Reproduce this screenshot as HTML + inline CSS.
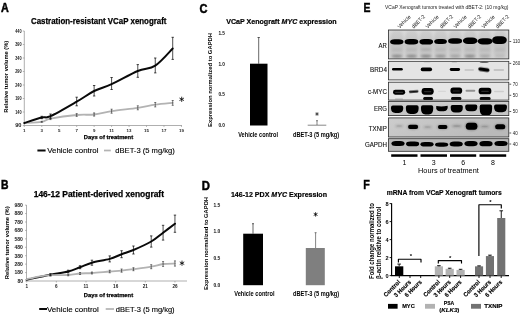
<!DOCTYPE html>
<html><head><meta charset="utf-8"><title>Figure</title>
<style>
html,body{margin:0;padding:0;background:#fff;}
body{width:520px;height:314px;overflow:hidden;}
svg{display:block;font-family:"Liberation Sans",sans-serif;}
</style></head><body>
<svg width="520" height="314" viewBox="0 0 520 314">
<rect width="520" height="314" fill="#fff"/>
<text x="1.00" y="12.20" font-size="12.80" font-weight="bold" text-anchor="start" fill="#000" textLength="7.80" lengthAdjust="spacingAndGlyphs" stroke="#000" stroke-width="0.5">A</text>
<text x="31.00" y="23.80" font-size="8.50" font-weight="bold" text-anchor="start" fill="#000" textLength="135.50" lengthAdjust="spacingAndGlyphs" stroke="#000" stroke-width="0.25">Castration-resistant VCaP xenograft</text>
<path d="M24.3 31 V125.5 H182" stroke="#8c8c8c" stroke-width="0.7" fill="none"/>
<path d="M22.8 31.00 H24.3" stroke="#8c8c8c" stroke-width="0.6"/>
<text x="15.20" y="32.60" font-size="4.60" font-weight="bold" text-anchor="start" fill="#222" textLength="6.40" lengthAdjust="spacingAndGlyphs">440</text>
<path d="M22.8 44.50 H24.3" stroke="#8c8c8c" stroke-width="0.6"/>
<text x="15.20" y="46.10" font-size="4.60" font-weight="bold" text-anchor="start" fill="#222" textLength="6.40" lengthAdjust="spacingAndGlyphs">390</text>
<path d="M22.8 58.00 H24.3" stroke="#8c8c8c" stroke-width="0.6"/>
<text x="15.20" y="59.60" font-size="4.60" font-weight="bold" text-anchor="start" fill="#222" textLength="6.40" lengthAdjust="spacingAndGlyphs">340</text>
<path d="M22.8 71.50 H24.3" stroke="#8c8c8c" stroke-width="0.6"/>
<text x="15.20" y="73.10" font-size="4.60" font-weight="bold" text-anchor="start" fill="#222" textLength="6.40" lengthAdjust="spacingAndGlyphs">290</text>
<path d="M22.8 85.00 H24.3" stroke="#8c8c8c" stroke-width="0.6"/>
<text x="15.20" y="86.60" font-size="4.60" font-weight="bold" text-anchor="start" fill="#222" textLength="6.40" lengthAdjust="spacingAndGlyphs">240</text>
<path d="M22.8 98.50 H24.3" stroke="#8c8c8c" stroke-width="0.6"/>
<text x="15.20" y="100.10" font-size="4.60" font-weight="bold" text-anchor="start" fill="#222" textLength="6.40" lengthAdjust="spacingAndGlyphs">190</text>
<path d="M22.8 112.00 H24.3" stroke="#8c8c8c" stroke-width="0.6"/>
<text x="15.20" y="113.60" font-size="4.60" font-weight="bold" text-anchor="start" fill="#222" textLength="6.40" lengthAdjust="spacingAndGlyphs">140</text>
<path d="M22.8 125.50 H24.3" stroke="#8c8c8c" stroke-width="0.6"/>
<text x="15.20" y="127.10" font-size="4.60" font-weight="bold" text-anchor="start" fill="#222" textLength="6.40" lengthAdjust="spacingAndGlyphs">90</text>
<path d="M24.30 125.5 V127" stroke="#8c8c8c" stroke-width="0.6"/>
<text x="24.30" y="132.10" font-size="4.40" font-weight="bold" text-anchor="middle" fill="#222">1</text>
<path d="M41.76 125.5 V127" stroke="#8c8c8c" stroke-width="0.6"/>
<text x="41.76" y="132.10" font-size="4.40" font-weight="bold" text-anchor="middle" fill="#222">3</text>
<path d="M59.22 125.5 V127" stroke="#8c8c8c" stroke-width="0.6"/>
<text x="59.22" y="132.10" font-size="4.40" font-weight="bold" text-anchor="middle" fill="#222">5</text>
<path d="M76.68 125.5 V127" stroke="#8c8c8c" stroke-width="0.6"/>
<text x="76.68" y="132.10" font-size="4.40" font-weight="bold" text-anchor="middle" fill="#222">7</text>
<path d="M94.14 125.5 V127" stroke="#8c8c8c" stroke-width="0.6"/>
<text x="94.14" y="132.10" font-size="4.40" font-weight="bold" text-anchor="middle" fill="#222">9</text>
<path d="M111.60 125.5 V127" stroke="#8c8c8c" stroke-width="0.6"/>
<text x="111.60" y="132.10" font-size="4.40" font-weight="bold" text-anchor="middle" fill="#222">11</text>
<path d="M129.06 125.5 V127" stroke="#8c8c8c" stroke-width="0.6"/>
<text x="129.06" y="132.10" font-size="4.40" font-weight="bold" text-anchor="middle" fill="#222">13</text>
<path d="M146.52 125.5 V127" stroke="#8c8c8c" stroke-width="0.6"/>
<text x="146.52" y="132.10" font-size="4.40" font-weight="bold" text-anchor="middle" fill="#222">15</text>
<path d="M163.98 125.5 V127" stroke="#8c8c8c" stroke-width="0.6"/>
<text x="163.98" y="132.10" font-size="4.40" font-weight="bold" text-anchor="middle" fill="#222">17</text>
<path d="M181.44 125.5 V127" stroke="#8c8c8c" stroke-width="0.6"/>
<text x="181.44" y="132.10" font-size="4.40" font-weight="bold" text-anchor="middle" fill="#222">19</text>
<text x="83.80" y="139.00" font-size="5.50" font-weight="bold" text-anchor="start" fill="#000" textLength="49.30" lengthAdjust="spacingAndGlyphs" stroke="#000" stroke-width="0.25">Days of treatment</text>
<g transform="translate(8.4,76.75) rotate(-90)">
<text x="-36.00" y="0.00" font-size="5.80" font-weight="bold" text-anchor="start" fill="#000" textLength="72.00" lengthAdjust="spacingAndGlyphs">Relative tumor volume (%)</text>
</g>
<path d="M24.30 123.00 C27.21 122.80 37.40 122.52 41.76 121.80 C46.13 121.08 44.67 119.83 50.49 118.70 C56.31 117.57 69.41 115.70 76.68 115.00 C83.96 114.30 88.32 115.13 94.14 114.50 C99.96 113.87 104.33 112.32 111.60 111.20 C118.88 110.08 130.52 108.88 137.79 107.80 C145.07 106.72 149.43 105.52 155.25 104.70 C161.07 103.88 169.80 103.20 172.71 102.90" stroke="#b3b3b3" stroke-width="1.8" fill="none" stroke-linecap="round"/>
<path d="M24.30 123.00 C27.21 122.08 37.40 118.63 41.76 117.50 C46.13 116.37 44.67 118.83 50.49 116.20 C56.31 113.57 69.41 105.90 76.68 101.70 C83.96 97.50 88.32 93.92 94.14 91.00 C99.96 88.08 104.33 87.53 111.60 84.20 C118.88 80.87 130.52 74.10 137.79 71.00 C145.07 67.90 149.43 69.35 155.25 65.60 C161.07 61.85 169.80 51.35 172.71 48.50" stroke="#0a0a0a" stroke-width="2.0" fill="none" stroke-linecap="round"/>
<path d="M41.76 116.30 V118.70 M40.56 116.30 h2.40 M40.56 118.70 h2.40" stroke="#000" stroke-width="0.70" fill="none"/>
<path d="M50.49 114.00 V118.30 M49.29 114.00 h2.40 M49.29 118.30 h2.40" stroke="#000" stroke-width="0.70" fill="none"/>
<path d="M76.68 97.20 V105.80 M75.48 97.20 h2.40 M75.48 105.80 h2.40" stroke="#000" stroke-width="0.70" fill="none"/>
<path d="M94.14 85.50 V96.00 M92.94 85.50 h2.40 M92.94 96.00 h2.40" stroke="#000" stroke-width="0.70" fill="none"/>
<path d="M111.60 77.50 V89.50 M110.40 77.50 h2.40 M110.40 89.50 h2.40" stroke="#000" stroke-width="0.70" fill="none"/>
<path d="M137.79 64.60 V77.30 M136.59 64.60 h2.40 M136.59 77.30 h2.40" stroke="#000" stroke-width="0.70" fill="none"/>
<path d="M155.25 58.00 V72.90 M154.05 58.00 h2.40 M154.05 72.90 h2.40" stroke="#000" stroke-width="0.70" fill="none"/>
<path d="M172.71 37.30 V59.40 M171.51 37.30 h2.40 M171.51 59.40 h2.40" stroke="#000" stroke-width="0.70" fill="none"/>
<path d="M41.76 121.30 V122.30 M40.76 121.30 h2.00 M40.76 122.30 h2.00" stroke="#222" stroke-width="0.60" fill="none"/>
<path d="M50.49 117.80 V119.60 M49.49 117.80 h2.00 M49.49 119.60 h2.00" stroke="#222" stroke-width="0.60" fill="none"/>
<path d="M76.68 113.60 V116.40 M75.68 113.60 h2.00 M75.68 116.40 h2.00" stroke="#222" stroke-width="0.60" fill="none"/>
<path d="M94.14 112.90 V116.10 M93.14 112.90 h2.00 M93.14 116.10 h2.00" stroke="#222" stroke-width="0.60" fill="none"/>
<path d="M111.60 109.20 V113.20 M110.60 109.20 h2.00 M110.60 113.20 h2.00" stroke="#222" stroke-width="0.60" fill="none"/>
<path d="M137.79 105.80 V109.80 M136.79 105.80 h2.00 M136.79 109.80 h2.00" stroke="#222" stroke-width="0.60" fill="none"/>
<path d="M155.25 102.50 V106.90 M154.25 102.50 h2.00 M154.25 106.90 h2.00" stroke="#222" stroke-width="0.60" fill="none"/>
<path d="M172.71 100.50 V105.30 M171.71 100.50 h2.00 M171.71 105.30 h2.00" stroke="#222" stroke-width="0.60" fill="none"/>
<path d="M181.70 96.70 L181.70 101.90 M183.95 98.00 L179.45 100.60 M183.95 100.60 L179.45 98.00 " stroke="#000" stroke-width="0.80" fill="none"/>
<path d="M37.4 150.5 H45.6" stroke="#0a0a0a" stroke-width="2"/>
<text x="47.20" y="153.30" font-size="7.60" font-weight="normal" text-anchor="start" fill="#000" textLength="51.30" lengthAdjust="spacingAndGlyphs" stroke="#000" stroke-width="0.12">Vehicle control</text>
<path d="M104 150.5 H110.8" stroke="#b3b3b3" stroke-width="1.7"/>
<text x="115.30" y="153.30" font-size="7.60" font-weight="normal" text-anchor="start" fill="#000" textLength="59.50" lengthAdjust="spacingAndGlyphs" stroke="#000" stroke-width="0.12">dBET-3 (5 mg/kg)</text>
<text x="1.10" y="189.20" font-size="12.40" font-weight="bold" text-anchor="start" fill="#000" textLength="7.50" lengthAdjust="spacingAndGlyphs" stroke="#000" stroke-width="0.5">B</text>
<text x="33.70" y="196.80" font-size="8.20" font-weight="bold" text-anchor="start" fill="#000" textLength="130.30" lengthAdjust="spacingAndGlyphs" stroke="#000" stroke-width="0.25">146-12 Patient-derived xenograft</text>
<path d="M26.5 205 V281 H187" stroke="#8c8c8c" stroke-width="0.7" fill="none"/>
<path d="M25 205.13 H26.5" stroke="#8c8c8c" stroke-width="0.6"/>
<text x="14.50" y="207.03" font-size="5.20" font-weight="bold" text-anchor="start" fill="#222" textLength="8.40" lengthAdjust="spacingAndGlyphs">980</text>
<path d="M25 213.56 H26.5" stroke="#8c8c8c" stroke-width="0.6"/>
<text x="14.50" y="215.46" font-size="5.20" font-weight="bold" text-anchor="start" fill="#222" textLength="8.40" lengthAdjust="spacingAndGlyphs">880</text>
<path d="M25 221.99 H26.5" stroke="#8c8c8c" stroke-width="0.6"/>
<text x="14.50" y="223.89" font-size="5.20" font-weight="bold" text-anchor="start" fill="#222" textLength="8.40" lengthAdjust="spacingAndGlyphs">780</text>
<path d="M25 230.42 H26.5" stroke="#8c8c8c" stroke-width="0.6"/>
<text x="14.50" y="232.32" font-size="5.20" font-weight="bold" text-anchor="start" fill="#222" textLength="8.40" lengthAdjust="spacingAndGlyphs">680</text>
<path d="M25 238.85 H26.5" stroke="#8c8c8c" stroke-width="0.6"/>
<text x="14.50" y="240.75" font-size="5.20" font-weight="bold" text-anchor="start" fill="#222" textLength="8.40" lengthAdjust="spacingAndGlyphs">580</text>
<path d="M25 247.28 H26.5" stroke="#8c8c8c" stroke-width="0.6"/>
<text x="14.50" y="249.18" font-size="5.20" font-weight="bold" text-anchor="start" fill="#222" textLength="8.40" lengthAdjust="spacingAndGlyphs">480</text>
<path d="M25 255.71 H26.5" stroke="#8c8c8c" stroke-width="0.6"/>
<text x="14.50" y="257.61" font-size="5.20" font-weight="bold" text-anchor="start" fill="#222" textLength="8.40" lengthAdjust="spacingAndGlyphs">380</text>
<path d="M25 264.14 H26.5" stroke="#8c8c8c" stroke-width="0.6"/>
<text x="14.50" y="266.04" font-size="5.20" font-weight="bold" text-anchor="start" fill="#222" textLength="8.40" lengthAdjust="spacingAndGlyphs">280</text>
<path d="M25 272.57 H26.5" stroke="#8c8c8c" stroke-width="0.6"/>
<text x="14.50" y="274.47" font-size="5.20" font-weight="bold" text-anchor="start" fill="#222" textLength="8.40" lengthAdjust="spacingAndGlyphs">180</text>
<path d="M25 281.00 H26.5" stroke="#8c8c8c" stroke-width="0.6"/>
<text x="17.40" y="282.90" font-size="5.20" font-weight="bold" text-anchor="start" fill="#222" textLength="5.50" lengthAdjust="spacingAndGlyphs">80</text>
<path d="M26.70 281 V282.5" stroke="#8c8c8c" stroke-width="0.6"/>
<text x="26.70" y="288.40" font-size="4.60" font-weight="bold" text-anchor="middle" fill="#222">1</text>
<path d="M56.35 281 V282.5" stroke="#8c8c8c" stroke-width="0.6"/>
<text x="56.35" y="288.40" font-size="4.60" font-weight="bold" text-anchor="middle" fill="#222">6</text>
<path d="M86.00 281 V282.5" stroke="#8c8c8c" stroke-width="0.6"/>
<text x="86.00" y="288.40" font-size="4.60" font-weight="bold" text-anchor="middle" fill="#222">11</text>
<path d="M115.65 281 V282.5" stroke="#8c8c8c" stroke-width="0.6"/>
<text x="115.65" y="288.40" font-size="4.60" font-weight="bold" text-anchor="middle" fill="#222">16</text>
<path d="M145.30 281 V282.5" stroke="#8c8c8c" stroke-width="0.6"/>
<text x="145.30" y="288.40" font-size="4.60" font-weight="bold" text-anchor="middle" fill="#222">21</text>
<path d="M174.95 281 V282.5" stroke="#8c8c8c" stroke-width="0.6"/>
<text x="174.95" y="288.40" font-size="4.60" font-weight="bold" text-anchor="middle" fill="#222">26</text>
<text x="83.80" y="297.00" font-size="5.50" font-weight="bold" text-anchor="start" fill="#000" textLength="49.30" lengthAdjust="spacingAndGlyphs" stroke="#000" stroke-width="0.25">Days of treatment</text>
<g transform="translate(9.4,242.8) rotate(-90)">
<text x="-36.50" y="0.00" font-size="5.60" font-weight="bold" text-anchor="start" fill="#000" textLength="73.00" lengthAdjust="spacingAndGlyphs">Relative tumor volume (%)</text>
</g>
<path d="M26.70 279.70 C30.65 278.87 43.50 276.07 50.42 274.70 C57.34 273.33 63.27 272.75 68.21 271.50 C73.15 270.25 76.12 268.67 80.07 267.20 C84.02 265.73 86.99 264.08 91.93 262.70 C96.87 261.32 104.78 260.32 109.72 258.90 C114.66 257.48 117.63 255.68 121.58 254.20 C125.53 252.72 128.50 252.12 133.44 250.00 C138.38 247.88 146.29 244.38 151.23 241.50 C156.17 238.62 159.14 235.67 163.09 232.70 C167.04 229.73 172.97 225.20 174.95 223.70" stroke="#0a0a0a" stroke-width="2.0" fill="none" stroke-linecap="round"/>
<path d="M26.70 279.30 C28.68 278.85 34.61 277.28 38.56 276.60 C42.51 275.92 45.48 275.47 50.42 275.20 C55.36 274.93 63.27 275.28 68.21 275.00 C73.15 274.72 76.12 273.83 80.07 273.50 C84.02 273.17 86.99 273.33 91.93 273.00 C96.87 272.67 104.78 271.90 109.72 271.50 C114.66 271.10 117.63 270.98 121.58 270.60 C125.53 270.22 128.50 269.85 133.44 269.20 C138.38 268.55 146.29 267.57 151.23 266.70 C156.17 265.83 159.14 264.53 163.09 264.00 C167.04 263.47 172.97 263.58 174.95 263.50" stroke="#b3b3b3" stroke-width="1.8" fill="none" stroke-linecap="round"/>
<path d="M50.42 273.70 V275.70 M49.22 273.70 h2.40 M49.22 275.70 h2.40" stroke="#000" stroke-width="0.70" fill="none"/>
<path d="M68.21 270.20 V272.80 M67.01 270.20 h2.40 M67.01 272.80 h2.40" stroke="#000" stroke-width="0.70" fill="none"/>
<path d="M80.07 265.70 V268.70 M78.87 265.70 h2.40 M78.87 268.70 h2.40" stroke="#000" stroke-width="0.70" fill="none"/>
<path d="M91.93 260.20 V265.20 M90.73 260.20 h2.40 M90.73 265.20 h2.40" stroke="#000" stroke-width="0.70" fill="none"/>
<path d="M109.72 255.90 V261.90 M108.52 255.90 h2.40 M108.52 261.90 h2.40" stroke="#000" stroke-width="0.70" fill="none"/>
<path d="M121.58 250.70 V257.70 M120.38 250.70 h2.40 M120.38 257.70 h2.40" stroke="#000" stroke-width="0.70" fill="none"/>
<path d="M133.44 246.00 V254.00 M132.24 246.00 h2.40 M132.24 254.00 h2.40" stroke="#000" stroke-width="0.70" fill="none"/>
<path d="M151.23 235.90 V247.10 M150.03 235.90 h2.40 M150.03 247.10 h2.40" stroke="#000" stroke-width="0.70" fill="none"/>
<path d="M163.09 225.30 V240.10 M161.89 225.30 h2.40 M161.89 240.10 h2.40" stroke="#000" stroke-width="0.70" fill="none"/>
<path d="M174.95 215.10 V232.30 M173.75 215.10 h2.40 M173.75 232.30 h2.40" stroke="#000" stroke-width="0.70" fill="none"/>
<path d="M50.42 274.40 V276.00 M49.42 274.40 h2.00 M49.42 276.00 h2.00" stroke="#222" stroke-width="0.60" fill="none"/>
<path d="M68.21 274.20 V275.80 M67.21 274.20 h2.00 M67.21 275.80 h2.00" stroke="#222" stroke-width="0.60" fill="none"/>
<path d="M80.07 272.50 V274.50 M79.07 272.50 h2.00 M79.07 274.50 h2.00" stroke="#222" stroke-width="0.60" fill="none"/>
<path d="M91.93 272.00 V274.00 M90.93 272.00 h2.00 M90.93 274.00 h2.00" stroke="#222" stroke-width="0.60" fill="none"/>
<path d="M109.72 270.20 V272.80 M108.72 270.20 h2.00 M108.72 272.80 h2.00" stroke="#222" stroke-width="0.60" fill="none"/>
<path d="M121.58 269.00 V272.20 M120.58 269.00 h2.00 M120.58 272.20 h2.00" stroke="#222" stroke-width="0.60" fill="none"/>
<path d="M133.44 267.70 V270.70 M132.44 267.70 h2.00 M132.44 270.70 h2.00" stroke="#222" stroke-width="0.60" fill="none"/>
<path d="M151.23 264.70 V268.70 M150.23 264.70 h2.00 M150.23 268.70 h2.00" stroke="#222" stroke-width="0.60" fill="none"/>
<path d="M163.09 261.60 V266.40 M162.09 261.60 h2.00 M162.09 266.40 h2.00" stroke="#222" stroke-width="0.60" fill="none"/>
<path d="M174.95 260.90 V266.10 M173.95 260.90 h2.00 M173.95 266.10 h2.00" stroke="#222" stroke-width="0.60" fill="none"/>
<path d="M182.00 260.60 L182.00 265.80 M184.25 261.90 L179.75 264.50 M184.25 264.50 L179.75 261.90 " stroke="#000" stroke-width="0.80" fill="none"/>
<path d="M39.2 309 H47" stroke="#0a0a0a" stroke-width="2"/>
<text x="46.90" y="311.80" font-size="7.60" font-weight="normal" text-anchor="start" fill="#000" textLength="51.90" lengthAdjust="spacingAndGlyphs" stroke="#000" stroke-width="0.12">Vehicle control</text>
<path d="M105.7 309 H114" stroke="#b3b3b3" stroke-width="1.7"/>
<text x="115.80" y="311.80" font-size="7.60" font-weight="normal" text-anchor="start" fill="#000" textLength="58.80" lengthAdjust="spacingAndGlyphs" stroke="#000" stroke-width="0.12">dBET-3 (5 mg/kg)</text>
<text x="199.60" y="12.50" font-size="12.60" font-weight="bold" text-anchor="start" fill="#000" textLength="8.00" lengthAdjust="spacingAndGlyphs" stroke="#000" stroke-width="0.5">C</text>
<text x="226.20" y="23.60" font-size="7.60" font-weight="bold" text-anchor="start" fill="#000" textLength="110.50" lengthAdjust="spacingAndGlyphs" stroke="#000" stroke-width="0.2">VCaP Xenograft <tspan font-style="italic">MYC</tspan> expression</text>
<text x="218.40" y="34.60" font-size="5.20" font-weight="bold" text-anchor="start" fill="#111" textLength="6.60" lengthAdjust="spacingAndGlyphs">1.5</text>
<text x="218.40" y="65.50" font-size="5.20" font-weight="bold" text-anchor="start" fill="#111" textLength="6.60" lengthAdjust="spacingAndGlyphs">1.0</text>
<text x="218.40" y="96.40" font-size="5.20" font-weight="bold" text-anchor="start" fill="#111" textLength="6.60" lengthAdjust="spacingAndGlyphs">0.5</text>
<text x="218.40" y="127.30" font-size="5.20" font-weight="bold" text-anchor="start" fill="#111" textLength="6.60" lengthAdjust="spacingAndGlyphs">0.0</text>
<rect x="250" y="63.70" width="17.5" height="61.80" fill="#000"/>
<path d="M258.7 63.70 V37.5 M257.5 37.5 h2.4" stroke="#000" stroke-width="0.6" fill="none"/>
<path d="M307.7 125.2 H326.3" stroke="#555" stroke-width="0.7"/>
<path d="M317 125 V120.7 M316 120.7 h2" stroke="#333" stroke-width="0.6"/>
<path d="M317.00 112.10 L317.00 115.90 M318.65 113.05 L315.35 114.95 M318.65 114.95 L315.35 113.05 " stroke="#000" stroke-width="0.60" fill="none"/>
<text x="238.20" y="136.80" font-size="6.30" font-weight="bold" text-anchor="start" fill="#000" textLength="39.80" lengthAdjust="spacingAndGlyphs">Vehicle control</text>
<text x="293.00" y="136.80" font-size="6.30" font-weight="bold" text-anchor="start" fill="#000" textLength="46.20" lengthAdjust="spacingAndGlyphs">dBET-3 (5 mg/kg)</text>
<g transform="translate(212.2,80) rotate(-90)">
<text x="-47.00" y="0.00" font-size="5.80" font-weight="bold" text-anchor="start" fill="#000" textLength="94.00" lengthAdjust="spacingAndGlyphs">Expression normalized to GAPDH</text>
</g>
<text x="201.80" y="189.60" font-size="12.60" font-weight="bold" text-anchor="start" fill="#000" textLength="8.20" lengthAdjust="spacingAndGlyphs" stroke="#000" stroke-width="0.5">D</text>
<text x="230.90" y="197.40" font-size="7.60" font-weight="bold" text-anchor="start" fill="#000" textLength="96.10" lengthAdjust="spacingAndGlyphs" stroke="#000" stroke-width="0.2">146-12 PDX <tspan font-style="italic">MYC</tspan> Expression</text>
<text x="213.50" y="206.55" font-size="5.20" font-weight="bold" text-anchor="start" fill="#111" textLength="6.80" lengthAdjust="spacingAndGlyphs">1.5</text>
<text x="213.50" y="233.30" font-size="5.20" font-weight="bold" text-anchor="start" fill="#111" textLength="6.80" lengthAdjust="spacingAndGlyphs">1.0</text>
<text x="213.50" y="260.05" font-size="5.20" font-weight="bold" text-anchor="start" fill="#111" textLength="6.80" lengthAdjust="spacingAndGlyphs">0.5</text>
<text x="213.50" y="286.80" font-size="5.20" font-weight="bold" text-anchor="start" fill="#111" textLength="6.80" lengthAdjust="spacingAndGlyphs">0.0</text>
<rect x="243.2" y="233.7" width="19.8" height="51.50" fill="#000"/>
<path d="M253 233.7 V223.7 M252 223.7 h2" stroke="#000" stroke-width="0.6" fill="none"/>
<rect x="305.8" y="248" width="19" height="37.20" fill="#7f7f7f"/>
<path d="M315.6 248 V232.7 M314.6 232.7 h2" stroke="#333" stroke-width="0.6" fill="none"/>
<path d="M315.60 212.20 L315.60 216.60 M317.51 213.30 L313.69 215.50 M317.51 215.50 L313.69 213.30 " stroke="#000" stroke-width="0.80" fill="none"/>
<text x="234.20" y="296.00" font-size="6.30" font-weight="bold" text-anchor="start" fill="#000" textLength="40.30" lengthAdjust="spacingAndGlyphs">Vehicle control</text>
<text x="293.00" y="296.00" font-size="6.30" font-weight="bold" text-anchor="start" fill="#000" textLength="46.20" lengthAdjust="spacingAndGlyphs">dBET-3 (5 mg/kg)</text>
<g transform="translate(208.4,243.5) rotate(-90)">
<text x="-46.50" y="0.00" font-size="5.80" font-weight="bold" text-anchor="start" fill="#000" textLength="93.00" lengthAdjust="spacingAndGlyphs">Expression normalized to GAPDH</text>
</g>
<text x="363.40" y="12.25" font-size="12.70" font-weight="bold" text-anchor="start" fill="#000" textLength="7.00" lengthAdjust="spacingAndGlyphs" stroke="#000" stroke-width="0.4">E</text>
<text x="385.00" y="8.60" font-size="5.30" font-weight="normal" text-anchor="start" fill="#222" textLength="123.50" lengthAdjust="spacingAndGlyphs">VCaP Xenograft tumors treated with dBET-2: (10 mg/kg)</text>
<g transform="translate(399.70,28.7) rotate(-45)">
<text x="0.00" y="0.00" font-size="5.40" font-weight="normal" text-anchor="start" fill="#111" textLength="16.20" lengthAdjust="spacingAndGlyphs">Vehicle</text>
</g>
<g transform="translate(413.70,28.7) rotate(-45)">
<text x="0.00" y="0.00" font-size="5.40" font-weight="normal" text-anchor="start" fill="#111" textLength="16.60" lengthAdjust="spacingAndGlyphs">dBET-2</text>
</g>
<g transform="translate(427.70,28.7) rotate(-45)">
<text x="0.00" y="0.00" font-size="5.40" font-weight="normal" text-anchor="start" fill="#111" textLength="16.20" lengthAdjust="spacingAndGlyphs">Vehicle</text>
</g>
<g transform="translate(441.70,28.7) rotate(-45)">
<text x="0.00" y="0.00" font-size="5.40" font-weight="normal" text-anchor="start" fill="#111" textLength="16.60" lengthAdjust="spacingAndGlyphs">dBET-2</text>
</g>
<g transform="translate(455.70,28.7) rotate(-45)">
<text x="0.00" y="0.00" font-size="5.40" font-weight="normal" text-anchor="start" fill="#111" textLength="16.20" lengthAdjust="spacingAndGlyphs">Vehicle</text>
</g>
<g transform="translate(469.70,28.7) rotate(-45)">
<text x="0.00" y="0.00" font-size="5.40" font-weight="normal" text-anchor="start" fill="#111" textLength="16.60" lengthAdjust="spacingAndGlyphs">dBET-2</text>
</g>
<g transform="translate(483.70,28.7) rotate(-45)">
<text x="0.00" y="0.00" font-size="5.40" font-weight="normal" text-anchor="start" fill="#111" textLength="16.20" lengthAdjust="spacingAndGlyphs">Vehicle</text>
</g>
<g transform="translate(497.70,28.7) rotate(-45)">
<text x="0.00" y="0.00" font-size="5.40" font-weight="normal" text-anchor="start" fill="#111" textLength="16.60" lengthAdjust="spacingAndGlyphs">dBET-2</text>
</g>
<defs><filter id="b1" x="-20%" y="-60%" width="140%" height="220%"><feGaussianBlur stdDeviation="0.55"/></filter><filter id="b2" x="-30%" y="-100%" width="160%" height="300%"><feGaussianBlur stdDeviation="1.2"/></filter><filter id="b3" x="-30%" y="-80%" width="160%" height="260%"><feGaussianBlur stdDeviation="0.68"/></filter>
<linearGradient id="gAR" x1="0" y1="0" x2="0" y2="1"><stop offset="0" stop-color="#dadada"/><stop offset="0.45" stop-color="#cdcdcd"/><stop offset="1" stop-color="#d0d0d0"/></linearGradient>
<linearGradient id="gTX" x1="0" y1="0" x2="1" y2="0.3"><stop offset="0" stop-color="#cdcdcd"/><stop offset="1" stop-color="#b9b9b9"/></linearGradient>
<linearGradient id="gERG" x1="0" y1="0" x2="0" y2="1"><stop offset="0" stop-color="#d2d2d2"/><stop offset="0.5" stop-color="#c2c2c2"/><stop offset="1" stop-color="#c8c8c8"/></linearGradient>
<clipPath id="cAR"><rect x="388.50" y="30.00" width="120.30" height="28.90"/></clipPath>
<clipPath id="cBRD"><rect x="388.50" y="61.30" width="120.30" height="18.60"/></clipPath>
<clipPath id="cMYC"><rect x="388.50" y="82.20" width="120.30" height="17.90"/></clipPath>
<clipPath id="cERG"><rect x="388.50" y="101.40" width="120.30" height="14.20"/></clipPath>
<clipPath id="cTX"><rect x="388.50" y="117.90" width="120.30" height="19.10"/></clipPath>
<clipPath id="cGA"><rect x="388.50" y="138.70" width="120.30" height="12.60"/></clipPath>
</defs>
<rect x="388.50" y="30.00" width="120.30" height="28.90" fill="url(#gAR)"/>
<g clip-path="url(#cAR)">
<rect x="390.50" y="31.00" width="13.00" height="26.00" rx="3.00" ry="13.00" fill="#000" opacity="0.05" filter="url(#b2)"/>
<ellipse cx="397.00" cy="56.20" rx="5.75" ry="1.50" fill="#000" opacity="0.30" filter="url(#b2)"/>
<ellipse cx="397.00" cy="49.50" rx="5.50" ry="1.00" fill="#000" opacity="0.08" filter="url(#b2)"/>
<rect x="405.10" y="31.00" width="13.00" height="26.00" rx="3.00" ry="13.00" fill="#000" opacity="0.05" filter="url(#b2)"/>
<ellipse cx="411.60" cy="56.20" rx="5.75" ry="1.50" fill="#000" opacity="0.30" filter="url(#b2)"/>
<ellipse cx="411.60" cy="49.50" rx="5.50" ry="1.00" fill="#000" opacity="0.08" filter="url(#b2)"/>
<rect x="419.50" y="31.00" width="13.00" height="26.00" rx="3.00" ry="13.00" fill="#000" opacity="0.05" filter="url(#b2)"/>
<ellipse cx="426.00" cy="56.20" rx="5.75" ry="1.50" fill="#000" opacity="0.32" filter="url(#b2)"/>
<ellipse cx="426.00" cy="49.50" rx="5.50" ry="1.00" fill="#000" opacity="0.14" filter="url(#b2)"/>
<rect x="434.10" y="31.00" width="13.00" height="26.00" rx="3.00" ry="13.00" fill="#000" opacity="0.05" filter="url(#b2)"/>
<ellipse cx="440.60" cy="56.20" rx="5.75" ry="1.50" fill="#000" opacity="0.26" filter="url(#b2)"/>
<ellipse cx="440.60" cy="49.50" rx="5.50" ry="1.00" fill="#000" opacity="0.08" filter="url(#b2)"/>
<rect x="448.70" y="31.00" width="13.00" height="26.00" rx="3.00" ry="13.00" fill="#000" opacity="0.05" filter="url(#b2)"/>
<ellipse cx="455.20" cy="56.20" rx="5.75" ry="1.50" fill="#000" opacity="0.18" filter="url(#b2)"/>
<ellipse cx="455.20" cy="49.50" rx="5.50" ry="1.00" fill="#000" opacity="0.08" filter="url(#b2)"/>
<rect x="463.50" y="31.00" width="13.00" height="26.00" rx="3.00" ry="13.00" fill="#000" opacity="0.05" filter="url(#b2)"/>
<ellipse cx="470.00" cy="56.20" rx="5.75" ry="1.50" fill="#000" opacity="0.30" filter="url(#b2)"/>
<ellipse cx="470.00" cy="49.50" rx="5.50" ry="1.00" fill="#000" opacity="0.08" filter="url(#b2)"/>
<rect x="478.50" y="31.00" width="13.00" height="26.00" rx="3.00" ry="13.00" fill="#000" opacity="0.05" filter="url(#b2)"/>
<ellipse cx="485.00" cy="56.20" rx="5.75" ry="1.50" fill="#000" opacity="0.16" filter="url(#b2)"/>
<ellipse cx="485.00" cy="49.50" rx="5.50" ry="1.00" fill="#000" opacity="0.08" filter="url(#b2)"/>
<rect x="493.50" y="31.00" width="13.00" height="26.00" rx="3.00" ry="13.00" fill="#000" opacity="0.05" filter="url(#b2)"/>
<ellipse cx="500.00" cy="56.20" rx="5.75" ry="1.50" fill="#000" opacity="0.05" filter="url(#b2)"/>
<ellipse cx="500.00" cy="49.50" rx="5.50" ry="1.00" fill="#000" opacity="0.08" filter="url(#b2)"/>
<rect x="390.10" y="39.20" width="13.40" height="5.20" rx="4.61" ry="2.60" fill="#000" opacity="1.00" filter="url(#b1)"/>
<rect x="404.60" y="39.10" width="13.70" height="5.40" rx="4.72" ry="2.70" fill="#000" opacity="1.00" filter="url(#b1)"/>
<rect x="419.40" y="38.90" width="13.70" height="5.60" rx="4.72" ry="2.80" fill="#000" opacity="1.00" filter="url(#b1)"/>
<rect x="434.20" y="38.90" width="12.70" height="5.00" rx="4.36" ry="2.50" fill="#000" opacity="1.00" filter="url(#b1)"/>
<rect x="448.10" y="38.20" width="14.00" height="5.60" rx="4.82" ry="2.80" fill="#000" opacity="1.00" filter="url(#b1)"/>
<rect x="462.90" y="37.60" width="14.60" height="6.40" rx="5.04" ry="3.20" fill="#000" opacity="1.00" filter="url(#b1)"/>
<rect x="477.70" y="38.20" width="14.90" height="6.20" rx="5.15" ry="3.10" fill="#000" opacity="1.00" filter="url(#b1)"/>
<rect x="492.10" y="36.15" width="14.70" height="7.90" rx="5.08" ry="3.95" fill="#000" opacity="1.00" filter="url(#b1)"/>
</g>
<rect x="388.50" y="30.00" width="120.30" height="28.90" fill="none" stroke="#2a2a2a" stroke-width="0.8"/>
<text x="378.60" y="48.40" font-size="7.20" font-weight="normal" text-anchor="start" fill="#111" textLength="8.30" lengthAdjust="spacingAndGlyphs" stroke="#111" stroke-width="0.12">AR</text>
<rect x="388.50" y="61.30" width="120.30" height="18.60" fill="#e4e4e4"/>
<g clip-path="url(#cBRD)">
<rect x="392.00" y="67.90" width="10.80" height="2.60" rx="1.30" ry="1.30" fill="#000" opacity="1.00" filter="url(#b1)"/>
<rect x="420.70" y="67.60" width="11.40" height="3.60" rx="1.80" ry="1.80" fill="#000" opacity="1.00" filter="url(#b1)"/>
<rect x="449.75" y="68.05" width="10.30" height="2.90" rx="1.45" ry="1.45" fill="#000" opacity="1.00" filter="url(#b1)"/>
<rect x="478.30" y="67.65" width="11.20" height="3.90" rx="1.95" ry="1.95" fill="#000" opacity="1.00" filter="url(#b1)" transform="rotate(8.0 483.90 69.60)"/>
<rect x="464.45" y="69.30" width="9.50" height="1.40" rx="0.70" ry="0.70" fill="#000" opacity="0.15" filter="url(#b1)"/>
<rect x="493.55" y="69.30" width="10.50" height="1.40" rx="0.70" ry="0.70" fill="#000" opacity="0.18" filter="url(#b1)"/>
<ellipse cx="484.20" cy="62.20" rx="4.50" ry="0.75" fill="#000" opacity="0.55" filter="url(#b1)"/>
<ellipse cx="454.40" cy="62.00" rx="3.00" ry="0.60" fill="#000" opacity="0.20" filter="url(#b1)"/>
<ellipse cx="427.00" cy="62.00" rx="3.50" ry="0.60" fill="#000" opacity="0.12" filter="url(#b1)"/>
</g>
<rect x="388.50" y="61.30" width="120.30" height="18.60" fill="none" stroke="#2a2a2a" stroke-width="0.8"/>
<text x="370.10" y="71.70" font-size="7.20" font-weight="normal" text-anchor="start" fill="#111" textLength="16.80" lengthAdjust="spacingAndGlyphs" stroke="#111" stroke-width="0.12">BRD4</text>
<rect x="388.50" y="82.20" width="120.30" height="17.90" fill="#e6e6e6"/>
<g clip-path="url(#cMYC)">
<rect x="393.00" y="89.85" width="12.20" height="4.90" rx="2.20" ry="2.45" fill="#000" opacity="1.00" filter="url(#b1)"/>
<rect x="395.10" y="91.70" width="8.00" height="1.20" rx="0.60" ry="0.60" fill="#fff" opacity="0.18" filter="url(#b1)"/>
<rect x="408.90" y="90.45" width="9.60" height="2.30" rx="1.15" ry="1.15" fill="#000" opacity="0.92" filter="url(#b1)" transform="rotate(-4.0 413.70 91.60)"/>
<rect x="421.60" y="87.95" width="12.10" height="6.70" rx="2.80" ry="3.35" fill="#000" opacity="1.00" filter="url(#b1)"/>
<rect x="424.02" y="91.00" width="7.26" height="1.20" rx="0.60" ry="0.60" fill="#fff" opacity="0.16" filter="url(#b1)"/>
<rect x="423.20" y="97.00" width="9.80" height="3.20" rx="1.20" ry="1.60" fill="#000" opacity="0.95" filter="url(#b1)"/>
<ellipse cx="428.10" cy="95.60" rx="4.41" ry="0.80" fill="#000" opacity="0.22" filter="url(#b2)"/>
<rect x="450.40" y="87.60" width="11.80" height="6.20" rx="2.80" ry="3.10" fill="#000" opacity="1.00" filter="url(#b1)"/>
<rect x="452.76" y="90.40" width="7.08" height="1.20" rx="0.60" ry="0.60" fill="#fff" opacity="0.16" filter="url(#b1)"/>
<rect x="451.00" y="97.00" width="10.40" height="3.20" rx="1.20" ry="1.60" fill="#000" opacity="0.95" filter="url(#b1)"/>
<ellipse cx="456.20" cy="95.60" rx="4.68" ry="0.80" fill="#000" opacity="0.22" filter="url(#b2)"/>
<rect x="478.60" y="87.65" width="12.80" height="6.70" rx="2.80" ry="3.35" fill="#000" opacity="1.00" filter="url(#b1)"/>
<rect x="481.16" y="90.70" width="7.68" height="1.20" rx="0.60" ry="0.60" fill="#fff" opacity="0.16" filter="url(#b1)"/>
<rect x="479.70" y="97.00" width="10.90" height="3.20" rx="1.20" ry="1.60" fill="#000" opacity="0.95" filter="url(#b1)"/>
<ellipse cx="485.15" cy="95.60" rx="4.91" ry="0.80" fill="#000" opacity="0.22" filter="url(#b2)"/>
<rect x="395.00" y="98.35" width="8.00" height="1.10" rx="0.55" ry="0.55" fill="#000" opacity="0.15" filter="url(#b1)"/>
<rect x="438.00" y="90.70" width="8.00" height="1.40" rx="0.70" ry="0.70" fill="#000" opacity="0.06" filter="url(#b1)"/>
<rect x="465.50" y="89.70" width="9.80" height="2.00" rx="1.00" ry="1.00" fill="#000" opacity="0.36" filter="url(#b1)"/>
<rect x="494.00" y="90.85" width="10.00" height="1.50" rx="0.75" ry="0.75" fill="#000" opacity="0.10" filter="url(#b1)"/>
</g>
<rect x="388.50" y="82.20" width="120.30" height="17.90" fill="none" stroke="#2a2a2a" stroke-width="0.8"/>
<text x="367.90" y="93.80" font-size="7.20" font-weight="normal" text-anchor="start" fill="#111" textLength="19.00" lengthAdjust="spacingAndGlyphs" stroke="#111" stroke-width="0.12">c-MYC</text>
<rect x="388.50" y="101.40" width="120.30" height="14.20" fill="url(#gERG)"/>
<g clip-path="url(#cERG)">
<path d="M391.00 107.40 Q391.00 105.60 392.80 105.60 L401.40 105.60 Q403.20 105.60 403.20 107.40 L403.20 108.37 Q403.20 112.90 398.81 112.90 L395.39 112.90 Q391.00 112.90 391.00 108.37 Z" fill="#000" opacity="1.00" filter="url(#b1)"/>
<path d="M405.90 107.10 Q405.90 105.30 407.70 105.30 L416.80 105.30 Q418.60 105.30 418.60 107.10 L418.60 108.61 Q418.60 114.00 414.03 114.00 L410.47 114.00 Q405.90 114.00 405.90 108.61 Z" fill="#000" opacity="1.00" filter="url(#b1)"/>
<path d="M421.00 107.10 Q421.00 105.30 422.80 105.30 L431.40 105.30 Q433.20 105.30 433.20 107.10 L433.20 108.80 Q433.20 114.50 428.81 114.50 L425.39 114.50 Q421.00 114.50 421.00 108.80 Z" fill="#000" opacity="1.00" filter="url(#b1)"/>
<path d="M450.70 106.70 Q450.70 104.90 452.50 104.90 L461.00 104.90 Q462.80 104.90 462.80 106.70 L462.80 107.83 Q462.80 112.60 458.44 112.60 L455.06 112.60 Q450.70 112.60 450.70 107.83 Z" fill="#000" opacity="1.00" filter="url(#b1)"/>
<path d="M465.20 106.20 Q465.20 104.40 467.00 104.40 L475.50 104.40 Q477.30 104.40 477.30 106.20 L477.30 107.02 Q477.30 111.30 472.94 111.30 L469.56 111.30 Q465.20 111.30 465.20 107.02 Z" fill="#000" opacity="1.00" filter="url(#b1)"/>
<path d="M479.70 106.40 Q479.70 104.60 481.50 104.60 L490.30 104.60 Q492.10 104.60 492.10 106.40 L492.10 108.63 Q492.10 115.20 487.64 115.20 L484.16 115.20 Q479.70 115.20 479.70 108.63 Z" fill="#000" opacity="1.00" filter="url(#b1)"/>
<path d="M494.10 106.20 Q494.10 104.40 495.90 104.40 L505.10 104.40 Q506.90 104.40 506.90 106.20 L506.90 107.36 Q506.90 112.20 502.29 112.20 L498.71 112.20 Q494.10 112.20 494.10 107.36 Z" fill="#000" opacity="1.00" filter="url(#b1)"/>
<path d="M436.2 106.0 Q441.8 106.9 447.6 105.8 Q448.3 109 445.9 110.8 Q441.8 111.9 437.8 110.8 Q435.5 109 436.2 106.0 Z" fill="#000" filter="url(#b1)"/>
</g>
<rect x="388.50" y="101.40" width="120.30" height="14.20" fill="none" stroke="#2a2a2a" stroke-width="0.8"/>
<text x="373.90" y="110.60" font-size="7.20" font-weight="normal" text-anchor="start" fill="#111" textLength="13.00" lengthAdjust="spacingAndGlyphs" stroke="#111" stroke-width="0.12">ERG</text>
<rect x="388.50" y="117.90" width="120.30" height="19.10" fill="url(#gTX)"/>
<g clip-path="url(#cTX)">
<ellipse cx="399.20" cy="126.00" rx="4.20" ry="1.50" fill="#000" opacity="0.13" filter="url(#b2)"/>
<ellipse cx="399.20" cy="126.00" rx="2.80" ry="0.80" fill="#000" opacity="0.08" filter="url(#b3)"/>
<ellipse cx="427.70" cy="127.00" rx="4.50" ry="1.50" fill="#000" opacity="0.13" filter="url(#b2)"/>
<ellipse cx="427.70" cy="127.00" rx="3.00" ry="0.80" fill="#000" opacity="0.08" filter="url(#b3)"/>
<ellipse cx="456.80" cy="126.00" rx="5.28" ry="1.50" fill="#000" opacity="0.16" filter="url(#b2)"/>
<ellipse cx="456.80" cy="126.00" rx="3.52" ry="0.80" fill="#000" opacity="0.10" filter="url(#b3)"/>
<ellipse cx="484.70" cy="126.50" rx="4.80" ry="1.50" fill="#000" opacity="0.14" filter="url(#b2)"/>
<ellipse cx="484.70" cy="126.50" rx="3.20" ry="0.80" fill="#000" opacity="0.08" filter="url(#b3)"/>
<rect x="408.10" y="124.80" width="10.00" height="4.20" rx="1.90" ry="2.10" fill="#000" opacity="1.00" filter="url(#b3)"/>
<ellipse cx="413.10" cy="126.90" rx="6.00" ry="2.75" fill="#000" opacity="0.25" filter="url(#b2)"/>
<rect x="438.00" y="125.05" width="9.40" height="3.90" rx="1.80" ry="1.95" fill="#000" opacity="1.00" filter="url(#b3)"/>
<ellipse cx="442.70" cy="127.00" rx="5.75" ry="2.50" fill="#000" opacity="0.25" filter="url(#b2)"/>
<rect x="465.80" y="122.70" width="11.60" height="7.00" rx="3.00" ry="3.50" fill="#000" opacity="1.00" filter="url(#b3)"/>
<ellipse cx="471.60" cy="126.20" rx="6.50" ry="4.20" fill="#000" opacity="0.30" filter="url(#b2)"/>
<rect x="495.10" y="124.20" width="10.20" height="5.00" rx="2.20" ry="2.50" fill="#000" opacity="1.00" filter="url(#b3)"/>
<ellipse cx="500.20" cy="126.70" rx="6.00" ry="3.00" fill="#000" opacity="0.25" filter="url(#b2)"/>
</g>
<rect x="388.50" y="117.90" width="120.30" height="19.10" fill="none" stroke="#2a2a2a" stroke-width="0.8"/>
<text x="368.80" y="130.60" font-size="7.20" font-weight="normal" text-anchor="start" fill="#111" textLength="18.10" lengthAdjust="spacingAndGlyphs" stroke="#111" stroke-width="0.12">TXNIP</text>
<rect x="388.50" y="138.70" width="120.30" height="12.60" fill="#bababa"/>
<g clip-path="url(#cGA)">
<rect x="391.40" y="141.10" width="13.20" height="5.00" rx="4.50" ry="2.50" fill="#000" opacity="1.00" filter="url(#b1)"/>
<rect x="406.00" y="141.60" width="13.20" height="4.60" rx="4.50" ry="2.30" fill="#000" opacity="1.00" filter="url(#b1)"/>
<rect x="420.40" y="141.90" width="13.20" height="4.60" rx="4.50" ry="2.30" fill="#000" opacity="1.00" filter="url(#b1)"/>
<rect x="435.00" y="142.40" width="13.20" height="4.40" rx="4.50" ry="2.20" fill="#000" opacity="1.00" filter="url(#b1)"/>
<rect x="449.60" y="141.40" width="13.20" height="5.00" rx="4.50" ry="2.50" fill="#000" opacity="1.00" filter="url(#b1)"/>
<rect x="464.40" y="141.00" width="13.20" height="5.20" rx="4.50" ry="2.60" fill="#000" opacity="1.00" filter="url(#b1)"/>
<rect x="479.40" y="141.10" width="13.20" height="5.20" rx="4.50" ry="2.60" fill="#000" opacity="1.00" filter="url(#b1)"/>
<rect x="494.40" y="141.00" width="13.20" height="5.00" rx="4.50" ry="2.50" fill="#000" opacity="1.00" filter="url(#b1)"/>
<path d="M391 143.8 H507" stroke="#000" stroke-width="2.2" opacity="0.55" filter="url(#b1)"/>
</g>
<rect x="388.50" y="138.70" width="120.30" height="12.60" fill="none" stroke="#2a2a2a" stroke-width="0.8"/>
<text x="364.90" y="147.10" font-size="7.20" font-weight="normal" text-anchor="start" fill="#111" textLength="22.00" lengthAdjust="spacingAndGlyphs" stroke="#111" stroke-width="0.12">GAPDH</text>
<path d="M509.4 41.50 h1.8" stroke="#111" stroke-width="0.7"/>
<text x="512.70" y="43.20" font-size="4.90" font-weight="normal" text-anchor="start" fill="#1a1a1a" textLength="7.50" lengthAdjust="spacingAndGlyphs">110</text>
<path d="M509.4 63.40 h1.8" stroke="#111" stroke-width="0.7"/>
<text x="512.70" y="65.10" font-size="4.90" font-weight="normal" text-anchor="start" fill="#1a1a1a" textLength="7.50" lengthAdjust="spacingAndGlyphs">260</text>
<path d="M509.4 84.20 h1.8" stroke="#111" stroke-width="0.7"/>
<text x="512.70" y="85.90" font-size="4.90" font-weight="normal" text-anchor="start" fill="#1a1a1a" textLength="5.00" lengthAdjust="spacingAndGlyphs">70</text>
<path d="M509.4 95.30 h1.8" stroke="#111" stroke-width="0.7"/>
<text x="512.70" y="97.00" font-size="4.90" font-weight="normal" text-anchor="start" fill="#1a1a1a" textLength="5.00" lengthAdjust="spacingAndGlyphs">50</text>
<path d="M509.4 111.50 h1.8" stroke="#111" stroke-width="0.7"/>
<text x="512.70" y="113.20" font-size="4.90" font-weight="normal" text-anchor="start" fill="#1a1a1a" textLength="5.00" lengthAdjust="spacingAndGlyphs">50</text>
<path d="M509.4 133.00 h1.8" stroke="#111" stroke-width="0.7"/>
<text x="512.70" y="134.70" font-size="4.90" font-weight="normal" text-anchor="start" fill="#1a1a1a" textLength="5.00" lengthAdjust="spacingAndGlyphs">40</text>
<path d="M509.4 144.00 h1.8" stroke="#111" stroke-width="0.7"/>
<text x="512.70" y="145.70" font-size="4.90" font-weight="normal" text-anchor="start" fill="#1a1a1a" textLength="5.00" lengthAdjust="spacingAndGlyphs">40</text>
<rect x="391.20" y="154.3" width="26.30" height="2.5" fill="#000"/>
<text x="404.35" y="164.60" font-size="7.00" font-weight="normal" text-anchor="middle" fill="#000">1</text>
<rect x="420.50" y="154.3" width="26.50" height="2.5" fill="#000"/>
<text x="433.75" y="164.60" font-size="7.00" font-weight="normal" text-anchor="middle" fill="#000">3</text>
<rect x="450.00" y="154.3" width="26.20" height="2.5" fill="#000"/>
<text x="463.10" y="164.60" font-size="7.00" font-weight="normal" text-anchor="middle" fill="#000">6</text>
<rect x="479.50" y="154.3" width="26.70" height="2.5" fill="#000"/>
<text x="492.85" y="164.60" font-size="7.00" font-weight="normal" text-anchor="middle" fill="#000">8</text>
<text x="418.00" y="173.00" font-size="6.70" font-weight="normal" text-anchor="start" fill="#000" textLength="60.80" lengthAdjust="spacingAndGlyphs">Hours of treatment</text>
<text x="363.20" y="189.45" font-size="12.70" font-weight="bold" text-anchor="start" fill="#000" textLength="6.60" lengthAdjust="spacingAndGlyphs" stroke="#000" stroke-width="0.4">F</text>
<text x="386.70" y="195.00" font-size="6.70" font-weight="bold" text-anchor="start" fill="#000" textLength="115.00" lengthAdjust="spacingAndGlyphs" stroke="#000" stroke-width="0.15">mRNA from VCaP Xenograft tumors</text>
<path d="M391.6 203.3 V275.6 H509" stroke="#000" stroke-width="1.15" fill="none"/>
<path d="M389.6 275.60 H391.6" stroke="#000" stroke-width="0.9"/>
<text x="388.60" y="277.70" font-size="5.60" font-weight="bold" text-anchor="end" fill="#000">0</text>
<path d="M389.6 257.60 H391.6" stroke="#000" stroke-width="0.9"/>
<text x="388.60" y="259.70" font-size="5.60" font-weight="bold" text-anchor="end" fill="#000">2</text>
<path d="M389.6 239.60 H391.6" stroke="#000" stroke-width="0.9"/>
<text x="388.60" y="241.70" font-size="5.60" font-weight="bold" text-anchor="end" fill="#000">4</text>
<path d="M389.6 221.60 H391.6" stroke="#000" stroke-width="0.9"/>
<text x="388.60" y="223.70" font-size="5.60" font-weight="bold" text-anchor="end" fill="#000">6</text>
<path d="M389.6 203.60 H391.6" stroke="#000" stroke-width="0.9"/>
<text x="388.60" y="205.70" font-size="5.60" font-weight="bold" text-anchor="end" fill="#000">8</text>
<rect x="395.00" y="266.33" width="8.30" height="9.27" fill="#000"/>
<path d="M399.15 266.33 V264.08 M397.35 264.08 h3.6" stroke="#000" stroke-width="0.9" fill="none"/>
<rect x="434.80" y="266.33" width="8.20" height="9.27" fill="#b2b2b2"/>
<path d="M438.90 266.33 V265.70 M437.10 265.70 h3.6" stroke="#000" stroke-width="0.9" fill="none"/>
<rect x="445.60" y="268.85" width="8.20" height="6.75" fill="#b2b2b2"/>
<path d="M449.70 268.85 V268.22 M447.90 268.22 h3.6" stroke="#000" stroke-width="0.9" fill="none"/>
<rect x="456.50" y="269.93" width="8.20" height="5.67" fill="#b2b2b2"/>
<path d="M460.60 269.93 V269.30 M458.80 269.30 h3.6" stroke="#000" stroke-width="0.9" fill="none"/>
<rect x="475.00" y="266.33" width="8.10" height="9.27" fill="#727272"/>
<path d="M479.05 266.33 V265.88 M477.25 265.88 h3.6" stroke="#000" stroke-width="0.9" fill="none"/>
<rect x="485.90" y="256.07" width="8.10" height="19.53" fill="#727272"/>
<path d="M489.95 256.07 V255.17 M488.15 255.17 h3.6" stroke="#000" stroke-width="0.9" fill="none"/>
<rect x="497.20" y="218.00" width="8.10" height="57.60" fill="#727272"/>
<path d="M501.25 218.00 V210.80 M499.45 210.80 h3.6" stroke="#000" stroke-width="0.9" fill="none"/>
<path d="M399.30 275.6 V278" stroke="#000" stroke-width="0.9"/>
<g transform="translate(398.50,280.2) rotate(-45)">
<text x="-20.80" y="3.20" font-size="6.10" font-weight="bold" text-anchor="start" fill="#000" textLength="20.80" lengthAdjust="spacingAndGlyphs" stroke="#000" stroke-width="0.15">Control</text>
</g>
<path d="M410.00 275.6 V278" stroke="#000" stroke-width="0.9"/>
<g transform="translate(409.20,280.2) rotate(-45)">
<text x="-21.40" y="3.20" font-size="6.10" font-weight="bold" text-anchor="start" fill="#000" textLength="21.40" lengthAdjust="spacingAndGlyphs" stroke="#000" stroke-width="0.15">3 Hours</text>
</g>
<path d="M420.70 275.6 V278" stroke="#000" stroke-width="0.9"/>
<g transform="translate(419.90,280.2) rotate(-45)">
<text x="-21.40" y="3.20" font-size="6.10" font-weight="bold" text-anchor="start" fill="#000" textLength="21.40" lengthAdjust="spacingAndGlyphs" stroke="#000" stroke-width="0.15">6 Hours</text>
</g>
<path d="M438.90 275.6 V278" stroke="#000" stroke-width="0.9"/>
<g transform="translate(438.10,280.2) rotate(-45)">
<text x="-20.80" y="3.20" font-size="6.10" font-weight="bold" text-anchor="start" fill="#000" textLength="20.80" lengthAdjust="spacingAndGlyphs" stroke="#000" stroke-width="0.15">Control</text>
</g>
<path d="M449.70 275.6 V278" stroke="#000" stroke-width="0.9"/>
<g transform="translate(448.90,280.2) rotate(-45)">
<text x="-21.40" y="3.20" font-size="6.10" font-weight="bold" text-anchor="start" fill="#000" textLength="21.40" lengthAdjust="spacingAndGlyphs" stroke="#000" stroke-width="0.15">3 Hours</text>
</g>
<path d="M460.60 275.6 V278" stroke="#000" stroke-width="0.9"/>
<g transform="translate(459.80,280.2) rotate(-45)">
<text x="-21.40" y="3.20" font-size="6.10" font-weight="bold" text-anchor="start" fill="#000" textLength="21.40" lengthAdjust="spacingAndGlyphs" stroke="#000" stroke-width="0.15">6 Hours</text>
</g>
<path d="M479.00 275.6 V278" stroke="#000" stroke-width="0.9"/>
<g transform="translate(478.20,280.2) rotate(-45)">
<text x="-20.80" y="3.20" font-size="6.10" font-weight="bold" text-anchor="start" fill="#000" textLength="20.80" lengthAdjust="spacingAndGlyphs" stroke="#000" stroke-width="0.15">Control</text>
</g>
<path d="M490.00 275.6 V278" stroke="#000" stroke-width="0.9"/>
<g transform="translate(489.20,280.2) rotate(-45)">
<text x="-21.40" y="3.20" font-size="6.10" font-weight="bold" text-anchor="start" fill="#000" textLength="21.40" lengthAdjust="spacingAndGlyphs" stroke="#000" stroke-width="0.15">3 Hours</text>
</g>
<path d="M501.20 275.6 V278" stroke="#000" stroke-width="0.9"/>
<g transform="translate(500.40,280.2) rotate(-45)">
<text x="-21.40" y="3.20" font-size="6.10" font-weight="bold" text-anchor="start" fill="#000" textLength="21.40" lengthAdjust="spacingAndGlyphs" stroke="#000" stroke-width="0.15">6 Hours</text>
</g>
<path d="M398.4 262.4 V259.2 H421 V262.4" stroke="#000" stroke-width="1.15" fill="none" stroke-linejoin="round"/>
<path d="M438.3 263.4 V260.6 H461.5 V263.4" stroke="#000" stroke-width="1.15" fill="none" stroke-linejoin="round"/>
<path d="M478.9 256 V204.7 H501.3 V208.6" stroke="#000" stroke-width="1.15" fill="none" stroke-linejoin="round"/>
<text x="411.00" y="258.30" font-size="6.00" font-weight="bold" text-anchor="middle" fill="#000">*</text>
<text x="450.20" y="259.80" font-size="6.00" font-weight="bold" text-anchor="middle" fill="#000">*</text>
<text x="490.50" y="204.00" font-size="6.00" font-weight="bold" text-anchor="middle" fill="#000">*</text>
<g transform="translate(373.7,279) rotate(-90)">
<text x="0.00" y="0.00" font-size="6.40" font-weight="bold" text-anchor="start" fill="#000" textLength="76.00" lengthAdjust="spacingAndGlyphs">Fold change normalized to</text>
<text x="0.00" y="7.10" font-size="6.40" font-weight="bold" text-anchor="start" fill="#000" textLength="72.50" lengthAdjust="spacingAndGlyphs">β-actin relative to control</text>
</g>
<rect x="388" y="303.9" width="9.6" height="4.8" fill="#000"/>
<text x="402.20" y="308.10" font-size="6.20" font-weight="bold" text-anchor="start" fill="#000" textLength="12.50" lengthAdjust="spacingAndGlyphs" stroke="#000" stroke-width="0.15">MYC</text>
<rect x="425" y="303.9" width="10" height="4.8" fill="#b2b2b2"/>
<text x="443.80" y="304.50" font-size="6.20" font-weight="bold" text-anchor="start" fill="#000" textLength="10.40" lengthAdjust="spacingAndGlyphs" stroke="#000" stroke-width="0.15">PSA</text>
<text x="439.20" y="311.50" font-size="6.20" font-weight="bold" text-anchor="start" fill="#000" textLength="20.20" lengthAdjust="spacingAndGlyphs" stroke="#000" stroke-width="0.15">(<tspan font-style="italic">KLK3</tspan>)</text>
<rect x="471" y="303.9" width="10" height="4.8" fill="#727272"/>
<text x="484.30" y="308.10" font-size="6.20" font-weight="bold" text-anchor="start" fill="#000" textLength="18.20" lengthAdjust="spacingAndGlyphs" stroke="#000" stroke-width="0.15">TXNIP</text>
</svg>
</body></html>
